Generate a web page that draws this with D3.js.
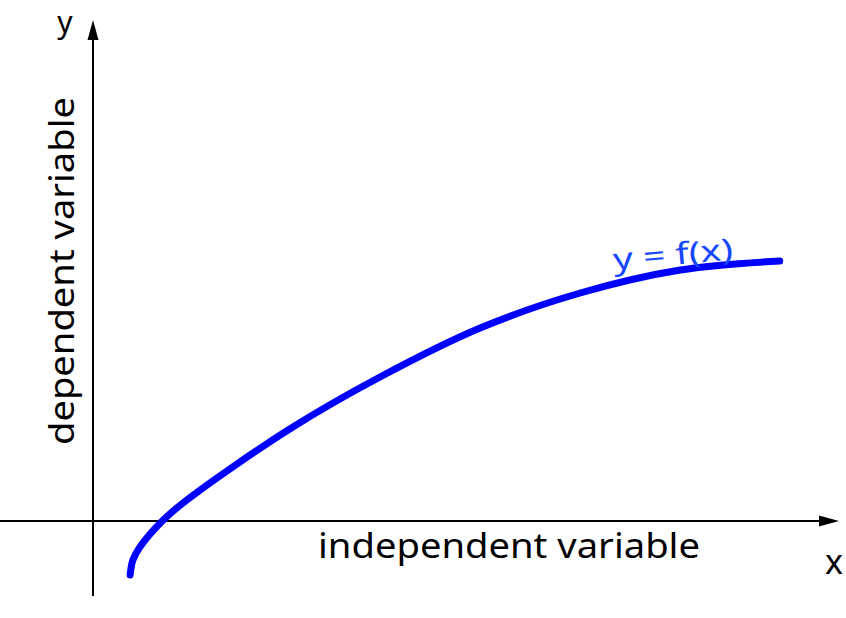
<!DOCTYPE html>
<html><head><meta charset="utf-8">
<script src="https://cdn.jsdelivr.net/npm/d3@7"></script>
<style>html,body{margin:0;padding:0;background:#fff;}</style>
</head><body>
<svg id="c" width="846" height="618"></svg>
<script>
// curve samples (data units)
const xValues = [0.53, 0.57, 0.67, 0.99, 1.34, 2.81, 4.10, 5.53, 6.96, 8.39, 9.81];
const yValues = [-1.08, -0.78, -0.52, 0.0, 0.42, 1.84, 2.88, 3.86, 4.56, 5.02, 5.20];
const xLabel = "independent variable";
const yLabel = "dependent variable";
const xName = "x";
const yName = "y";
const curveLabel = "y = f(x)";

const svg = d3.select("#c");
const x = d3.scaleLinear().domain([0, 10]).range([93, 793]);
const y = d3.scaleLinear().domain([0, 10]).range([521, 21]);
const font = "'Noto Sans', 'DejaVu Sans', sans-serif";

// axes
const xMin = -1.33, xMax = 10.4, yMin = -1.5, yMax = 9.66;
svg.append("line").attr("x1", x(xMin)).attr("x2", x(xMax)).attr("y1", y(0)).attr("y2", y(0))
  .attr("stroke", "#000").attr("stroke-width", 2);
svg.append("line").attr("x1", x(0)).attr("x2", x(0)).attr("y1", y(yMin)).attr("y2", y(yMax))
  .attr("stroke", "#000").attr("stroke-width", 2);
// arrowheads
const ax = x(xMax), ay = y(0);
svg.append("path").attr("d", `M${ax-2},${ay-5.5} L${ax+18},${ay} L${ax-2},${ay+5.5} Z`).attr("fill", "#000");
const bx = x(0), by = y(yMax);
svg.append("path").attr("d", `M${bx-5.5},${by+2} L${bx},${by-18} L${bx+5.5},${by+2} Z`).attr("fill", "#000");

// curve
const pts = xValues.map((v, i) => [v, yValues[i]]);
const line = d3.line().x(d => x(d[0])).y(d => y(d[1])).curve(d3.curveCatmullRom.alpha(0.5));
svg.append("path").datum(pts).attr("d", line).attr("fill", "none")
  .attr("stroke", "#0000ff").attr("stroke-width", 7).attr("stroke-linecap", "round").attr("stroke-linejoin", "round");

// labels
svg.append("text").attr("x", 318).attr("y", 558).attr("font-family", font).attr("font-size", 34)
  .attr("textLength", 382).attr("lengthAdjust", "spacingAndGlyphs").attr("fill", "#000").text(xLabel);
svg.append("text").attr("transform", "translate(74,445) rotate(-90)").attr("font-family", font).attr("font-size", 34)
  .attr("textLength", 348).attr("lengthAdjust", "spacingAndGlyphs").attr("fill", "#000").text(yLabel);
svg.append("text").attr("x", 834).attr("y", 574).attr("text-anchor", "middle").attr("font-family", font).attr("font-size", 34)
  .attr("fill", "#000").text(xName);
svg.append("text").attr("x", 65).attr("y", 33).attr("text-anchor", "middle").attr("font-family", font).attr("font-size", 30)
  .attr("fill", "#000").text(yName);
svg.append("text").attr("transform", "translate(614,270) rotate(-5)").attr("font-family", font).attr("font-size", 30)
  .attr("textLength", 120).attr("lengthAdjust", "spacingAndGlyphs").attr("fill", "#1447ff").text(curveLabel);
</script>
</body></html>
